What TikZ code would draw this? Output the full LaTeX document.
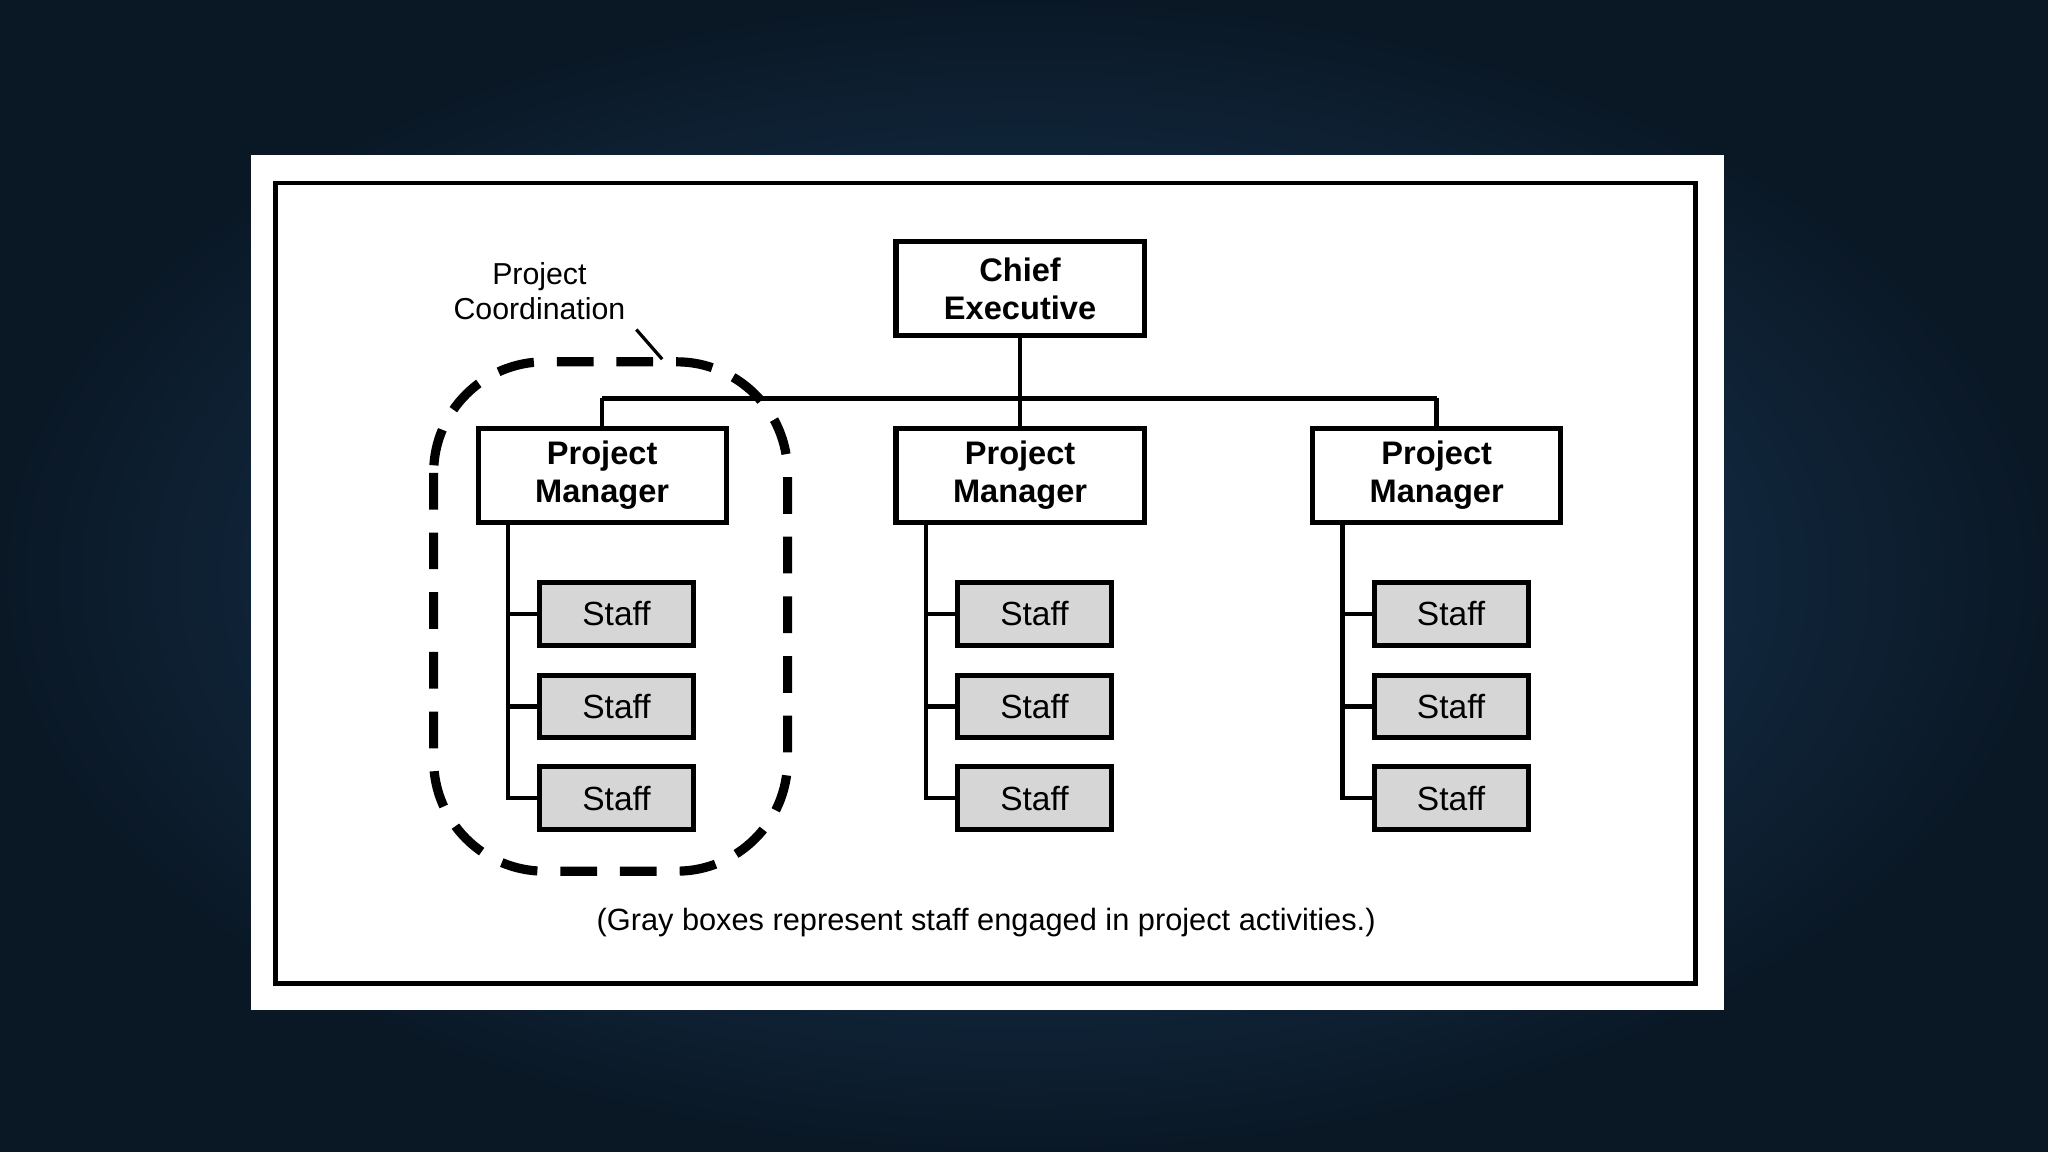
\documentclass[tikz,border=0pt]{standalone}
\usepackage{fontspec}
\setmainfont{Liberation Sans}
\usetikzlibrary{positioning}
\definecolor{navy}{HTML}{1E4468}
\definecolor{navydark}{HTML}{0A1826}
\definecolor{staffgray}{HTML}{D6D6D6}
\tikzset{
  box/.style={draw, line width=1.1pt, fill=white, minimum width=19mm, minimum height=7.2mm, font=\bfseries\fontsize{7.1}{8.2}\selectfont, align=center, inner sep=0pt},
  staff/.style={draw, line width=1.1pt, fill=staffgray, minimum width=11.8mm, minimum height=4.8mm, font=\fontsize{7.3}{9}\selectfont, inner sep=0pt},
  wire/.style={line width=1pt}
}
\begin{document}
\begin{tikzpicture}[x=0.1mm, y=-0.1mm]
	\useasboundingbox (0,0) rectangle (1568,882);
	\shade[inner color=navy, outer color=navydark] (0,0) rectangle (1568,882);
	\fill[white] (192,119) rectangle (1320,773);
	\draw[line width=1pt] (211,140) rectangle (1298,753);
	% top
	\node[box] (chief) at (781,221) {Chief\\Executive};
	\coordinate (bus) at (781,305);
	\foreach \i/\x in {1/461, 2/781, 3/1100} {
		\node[box] (pm\i) at (\x,364) {Project\\Manager};
		\coordinate (top\i) at (\x,305);
		\draw[wire] (top\i) -- (pm\i.north);
		\foreach \j/\y in {1/470, 2/541, 3/611} {
			\node[staff] (s\i\j) at (\x+11,\y) {Staff};
		}
		\draw[wire] (pm\i.south west) ++(25,0) |- (s\i3.west);
		\draw[wire] (s\i1.west) -- ++(-21,0);
		\draw[wire] (s\i2.west) -- ++(-21,0);
	}
	\draw[wire] (chief) -- (bus);
	\draw[wire] (top1) -- (top3);
	% coordination
	\draw[line width=2pt, dash pattern=on 8pt off 5pt, rounded corners=8.5mm] (332,277) rectangle (603,667);
	\node[align=center, font=\fontsize{6.6}{7.6}\selectfont] (coord) at (413,223) {Project\\Coordination};
	\coordinate (tip) at (507,275);
	\draw[line width=0.7pt] (coord.south east) ++(-4,-5) -- (tip);
	\node[font=\fontsize{6.7}{8}\selectfont] (note) at (755,706) {(Gray boxes represent staff engaged in project activities.)};
\end{tikzpicture}
\end{document}
